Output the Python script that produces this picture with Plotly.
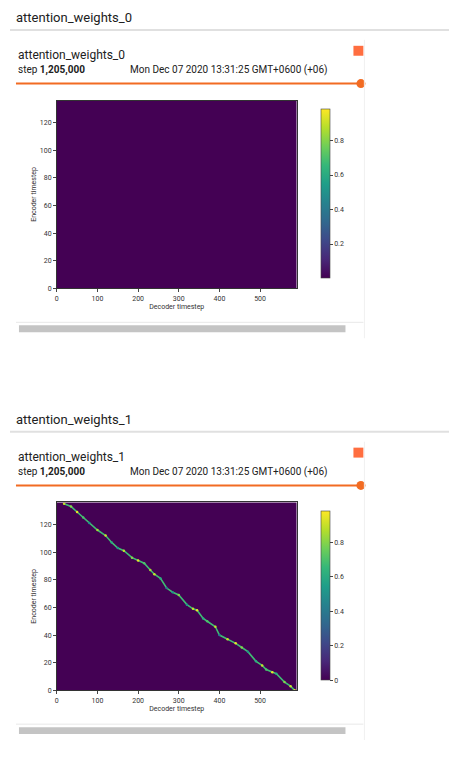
import plotly.graph_objects as go

# page body has an 8px margin, so the figure is drawn smaller and shifted
PAD = 8
W, H = 457 - 2 * PAD, 766 - 2 * PAD

# alignment path of attention_weights_1 (decoder step, encoder step, weight)
dec_steps = [18, 35, 50, 65, 80, 100, 120, 135, 150, 165, 185, 200, 215, 230, 240, 255, 270,
             285, 300, 320, 335, 345, 360, 370, 390, 400, 420, 440, 455, 470, 490, 505, 515,
             530, 540, 560, 575, 585]
enc_steps = [135, 133, 129, 125, 121, 116, 112, 107, 103, 101, 96, 94, 92, 87, 84, 81, 74,
             71, 69, 62, 59, 58, 52, 50, 46, 40, 37, 34, 31, 28, 21, 18, 15, 13, 12, 6, 3, 0]
weights = [0.9, 0.8, 0.95, 0.7, 0.5, 0.85, 0.9, 0.6, 0.5, 0.9, 0.8, 0.95, 0.7, 0.85, 0.9, 0.6,
           0.4, 0.5, 0.8, 0.5, 0.9, 0.95, 0.6, 0.7, 0.9, 0.4, 0.9, 0.95, 0.8, 0.5, 0.6, 0.9,
           0.7, 0.95, 0.6, 0.8, 0.9, 0.95]

x_ticks = [0, 100, 200, 300, 400, 500]
y_ticks = [0, 20, 40, 60, 80, 100, 120]
cb1_ticks = [0.2, 0.4, 0.6, 0.8]
cb2_ticks = [0.0, 0.2, 0.4, 0.6, 0.8]
titles = ["attention_weights_0", "attention_weights_1"]
step_text = "step <b>1,205,000</b>"
date_text = "Mon Dec 07 2020 13:31:25 GMT+0600 (+06)"

ORANGE = "#f26b22"


def py(p):  # pixel from top of window -> paper
    return 1 - (p - PAD) / H


def px(p):
    return (p - PAD) / W


fig = go.Figure()

panels = [(101, 290, "", cb1_ticks), (505, 694, "2", cb2_ticks)]
for i, (top, bot, ax, cbt) in enumerate(panels):
    fig.add_trace(go.Heatmap(
        z=[[0.0]], x0=295, dx=590, y0=68, dy=136, zmin=0, zmax=0.98,
        colorscale="Viridis", xaxis="x" + ax, yaxis="y" + ax, hoverinfo="skip",
        colorbar=dict(x=px(310), xanchor="left", y=py(bot), yanchor="bottom",
                      len=bot - top, lenmode="pixels", thickness=9,
                      outlinewidth=0.6, outlinecolor="#444",
                      tickvals=cbt, ticks="outside", ticklen=3,
                      tickfont=dict(size=7, color="#333"))))
    ya = "yaxis" + ax
    xa = "xaxis" + ax
    common = dict(showgrid=False, zeroline=False, ticks="outside", ticklen=3,
                  showline=True, mirror=True, linecolor="#333", linewidth=0.6,
                  tickfont=dict(size=7, color="#333"), title_font=dict(size=7, color="#333"))
    fig.layout[xa] = dict(common, domain=[px(55), px(296)], range=[0, 590], tickvals=x_ticks,
                          anchor="y" + ax, title=dict(text="Decoder timestep", standoff=2))
    fig.layout[ya] = dict(common, domain=[py(bot), py(top)], range=[0, 136], tickvals=y_ticks,
                          anchor="x" + ax, title=dict(text="Encoder timestep", standoff=2))

fig.add_trace(go.Scatter(x=dec_steps, y=enc_steps, mode="lines", xaxis="x2", yaxis="y2",
                         line=dict(color="#3fbc73", width=1.6), hoverinfo="skip", showlegend=False))
fig.add_trace(go.Scatter(x=dec_steps, y=enc_steps, mode="markers", xaxis="x2", yaxis="y2",
                         marker=dict(size=2.5, color=weights, colorscale="Viridis", cmin=0, cmax=0.98),
                         hoverinfo="skip", showlegend=False))

shapes = []
ann = []
for i, off in enumerate([0, 404]):
    # section header
    ann.append(dict(x=px(12), y=py(18 + off), text=titles[i], font=dict(size=13, color="#212121")))
    shapes.append(dict(type="rect", x0=0, x1=1, y0=py(31 + off), y1=py(29 + off),
                       fillcolor="#e0e0e0", line_width=0))
    # card header
    ann.append(dict(x=px(14), y=py(55 + off), text=titles[i], font=dict(size=12, color="#212121")))
    ann.append(dict(x=px(14), y=py(70 + off), text=step_text, font=dict(size=10, color="#212121")))
    ann.append(dict(x=px(127), y=py(70 + off), text=date_text, font=dict(size=10, color="#212121")))
    shapes.append(dict(type="rect", x0=px(353), x1=px(363), y0=py(56 + off), y1=py(46 + off),
                       fillcolor="#ff6e40", line_width=0))
    shapes.append(dict(type="line", x0=px(14), x1=px(360), y0=py(84 + off), y1=py(84 + off),
                       line=dict(color=ORANGE, width=2)))
    shapes.append(dict(type="circle", x0=px(356), x1=px(365), y0=py(88.5 + off), y1=py(79.5 + off),
                       fillcolor=ORANGE, line_width=0))
    # scrollbar
    shapes.append(dict(type="line", x0=px(14), x1=px(363), y0=py(324 + off), y1=py(324 + off),
                       line=dict(color="#e8e8e8", width=1)))
    shapes.append(dict(type="rect", x0=px(17), x1=px(345), y0=py(334 + off), y1=py(327 + off),
                       fillcolor="#c4c4c4", line_width=0))
    shapes.append(dict(type="line", x0=px(364), x1=px(364), y0=py(40 + off), y1=py(340 + off),
                       line=dict(color="#f0f0f0", width=1)))

for s in shapes:
    s.update(xref="paper", yref="paper")
for a in ann:
    a.update(xref="paper", yref="paper", xanchor="left", yanchor="middle", showarrow=False)

fig.update_layout(width=W, height=H, margin=dict(l=0, r=0, t=0, b=0),
                  paper_bgcolor="white", plot_bgcolor="white",
                  font=dict(family="Roboto"), showlegend=False,
                  shapes=shapes, annotations=ann)

fig.write_html("out.html", config={"displayModeBar": False})
